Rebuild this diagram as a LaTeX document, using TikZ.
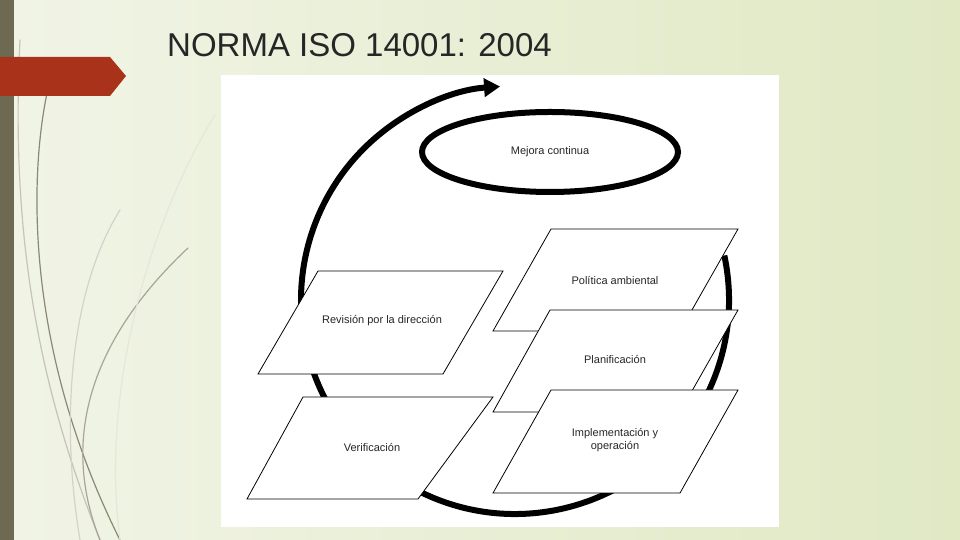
\documentclass[tikz,border=0pt]{standalone}
\usepackage{fontspec}
\setmainfont{Liberation Sans}
\usetikzlibrary{arrows.meta,shapes.geometric}
\definecolor{bgA}{HTML}{F1F4E6}
\definecolor{bgB}{HTML}{E0E9C4}
\definecolor{olive}{HTML}{6E6A52}
\definecolor{tabred}{HTML}{A8321A}
\tikzset{
  para/.style={draw=black, line width=0.8pt, fill=white},
  lbl/.style={font=\fontsize{11}{12.5}\selectfont, align=center, text=black!85},
  deco/.style={line width=1.2pt, line cap=round}
}
\begin{document}
\begin{tikzpicture}[x=1pt,y=1pt]
\useasboundingbox (0,0) rectangle (960,540);
\shade[left color=bgA, right color=bgB] (0,0) rectangle (960,540);
\fill[olive] (0,0) rectangle (14,540);
% decorative curves
\draw[deco, olive!80] (120,0) .. controls (20,200) and (30,380) .. (50,460);
\draw[deco, olive!40] (100,0) .. controls (40,150) and (10,300) .. (20,500);
\draw[deco, olive!60] (100,0) .. controls (60,100) and (90,200) .. (188,292);
\draw[deco, bgB!70!olive!40] (120,0) .. controls (100,150) and (150,320) .. (215,425);
\draw[deco, olive!30] (80,0) .. controls (60,120) and (70,250) .. (120,330);
% red tab
\fill[tabred] (0,483) -- (110,483) -- (126,464) -- (110,444) -- (0,444) -- cycle;
\node[font=\fontsize{33}{36}\selectfont, text=black!85, anchor=west, inner sep=0pt] (title) at (167,495) {NORMA ISO 14001: 2004};
% white panel
\fill[white] (221,13) rectangle (779,465);
% cycle
\draw[line width=6pt, -{Triangle[length=16pt,width=18pt]}] (515,240) ++(12:214) arc[start angle=12, end angle=-266, radius=214];
\node[draw, line width=6pt, ellipse, minimum width=256pt, minimum height=80pt, inner sep=0pt] (mejora) at (550,388) {};
\node[lbl] (mejt) at (550,388) {Mejora continua};
% right stack
\draw[para] (551,311) -- (738,311) -- (680,209) -- (493,209) -- cycle;
\node[lbl] (pol) at (615,259) {Política ambiental};
\draw[para] (550,230) -- (738,230) -- (680,128) -- (493,128) -- cycle;
\node[lbl] (pla) at (615,180) {Planificación};
\draw[para] (551,150) -- (738,150) -- (680,47) -- (493,47) -- cycle;
\node[lbl] (imp) at (615,100) {Implementación y\\operación};
% left stack
\draw[para] (318,269) -- (503,269) -- (443,166) -- (258,166) -- cycle;
\node[lbl] (rev) at (382,219) {Revisión por la dirección};
\draw[para] (303,143) -- (493,143) -- (418,41) -- (247,41) -- cycle;
\node[lbl] (ver) at (372,92) {Verificación};
\end{tikzpicture}
\end{document}
